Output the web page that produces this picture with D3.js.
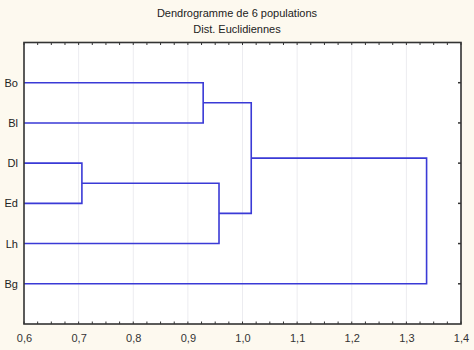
<!DOCTYPE html>
<html lang="fr">
<head>
<meta charset="UTF-8">
<title>Dendrogramme</title>
<script src="https://d3js.org/d3.v7.min.js"></script>
<style>
  body { margin: 0; background: #fdf9ef; }
  text { font-family: "Liberation Sans", Arial, sans-serif; fill: #222; }
</style>
</head>
<body>
<div id="chart"></div>
<script>
// leaves, top to bottom
var leaves = ["Bo", "Bl", "Dl", "Ed", "Lh", "Bg"];
// merges: [left, right, height]  (ids: leaf names, or "m0".. for earlier merges)
var mergeLeft   = ["Bo", "Dl", "m1", "m0", "m3"];
var mergeRight  = ["Bl", "Ed", "Lh", "m2", "Bg"];
var mergeHeight = [0.928, 0.706, 0.957, 1.016, 1.337];
var xTicks = [0.6, 0.7, 0.8, 0.9, 1.0, 1.1, 1.2, 1.3, 1.4];

var W = 474, H = 350;
var margin = {top: 42.5, right: 13, bottom: 26, left: 24};
var width = W - margin.left - margin.right,
    height = H - margin.top - margin.bottom;

var svg = d3.select("#chart").append("svg")
    .attr("width", W).attr("height", H);

svg.append("text").attr("x", W / 2).attr("y", 17)
    .attr("text-anchor", "middle").style("font-size", "11px")
    .text("Dendrogramme de 6 populations");
svg.append("text").attr("x", W / 2).attr("y", 32.5)
    .attr("text-anchor", "middle").style("font-size", "11px")
    .text("Dist. Euclidiennes");

var g = svg.append("g")
    .attr("transform", "translate(" + margin.left + "," + margin.top + ")");

var x = d3.scaleLinear().domain([0.6, 1.4]).range([0, width]);
var y = d3.scalePoint().domain(leaves).range([0, height]).padding(1);

g.append("rect").attr("width", width).attr("height", height).attr("fill", "#fff");

// faint grid
g.selectAll(".grid").data(xTicks.slice(1, -1)).enter().append("line")
    .attr("x1", d => x(d)).attr("x2", d => x(d))
    .attr("y1", 0).attr("y2", height)
    .attr("stroke", "#ececf0").attr("stroke-width", 1);

// tree
var node = {};
leaves.forEach(function(l) { node[l] = {x: 0.6, y: y(l)}; });
var lines = [];
mergeHeight.forEach(function(h, i) {
  var a = node[mergeLeft[i]], b = node[mergeRight[i]];
  lines.push([[x(a.x), a.y], [x(h), a.y], [x(h), b.y], [x(b.x), b.y]]);
  node["m" + i] = {x: h, y: (a.y + b.y) / 2};
});
g.selectAll(".link").data(lines).enter().append("path")
    .attr("d", d3.line())
    .attr("fill", "none").attr("stroke", "#3a3ad6").attr("stroke-width", 1.6);

// axes
var minor = d3.range(0.6, 1.4001, 0.025);
var xb = g.append("g").attr("transform", "translate(0," + height + ")")
    .call(d3.axisBottom(x).tickValues(xTicks).tickSize(0).tickPadding(10)
      .tickFormat(d => d3.format(".1f")(d).replace(".", ",")));
xb.select(".domain").remove();
xb.selectAll("text").style("font-size", "11px").style("fill", "#333");

g.selectAll(".mb").data(minor).enter().append("line")
    .attr("x1", d => x(d)).attr("x2", d => x(d))
    .attr("y1", height).attr("y2", height - 2.5).attr("stroke", "#333");
g.selectAll(".mt").data(minor).enter().append("line")
    .attr("x1", d => x(d)).attr("x2", d => x(d))
    .attr("y1", 0).attr("y2", 2.5).attr("stroke", "#333");

var yl = g.append("g")
    .call(d3.axisLeft(y).tickSize(0).tickPadding(6));
yl.select(".domain").remove();
yl.selectAll("text").style("font-size", "11px").style("fill", "#222");

g.selectAll(".rt").data(leaves).enter().append("line")
    .attr("x1", width).attr("x2", width - 3)
    .attr("y1", d => y(d)).attr("y2", d => y(d)).attr("stroke", "#333").attr("stroke-width", 1.5);

g.append("rect").attr("width", width).attr("height", height)
    .attr("fill", "none").attr("stroke", "#333").attr("stroke-width", 1.6);
</script>
</body>
</html>
